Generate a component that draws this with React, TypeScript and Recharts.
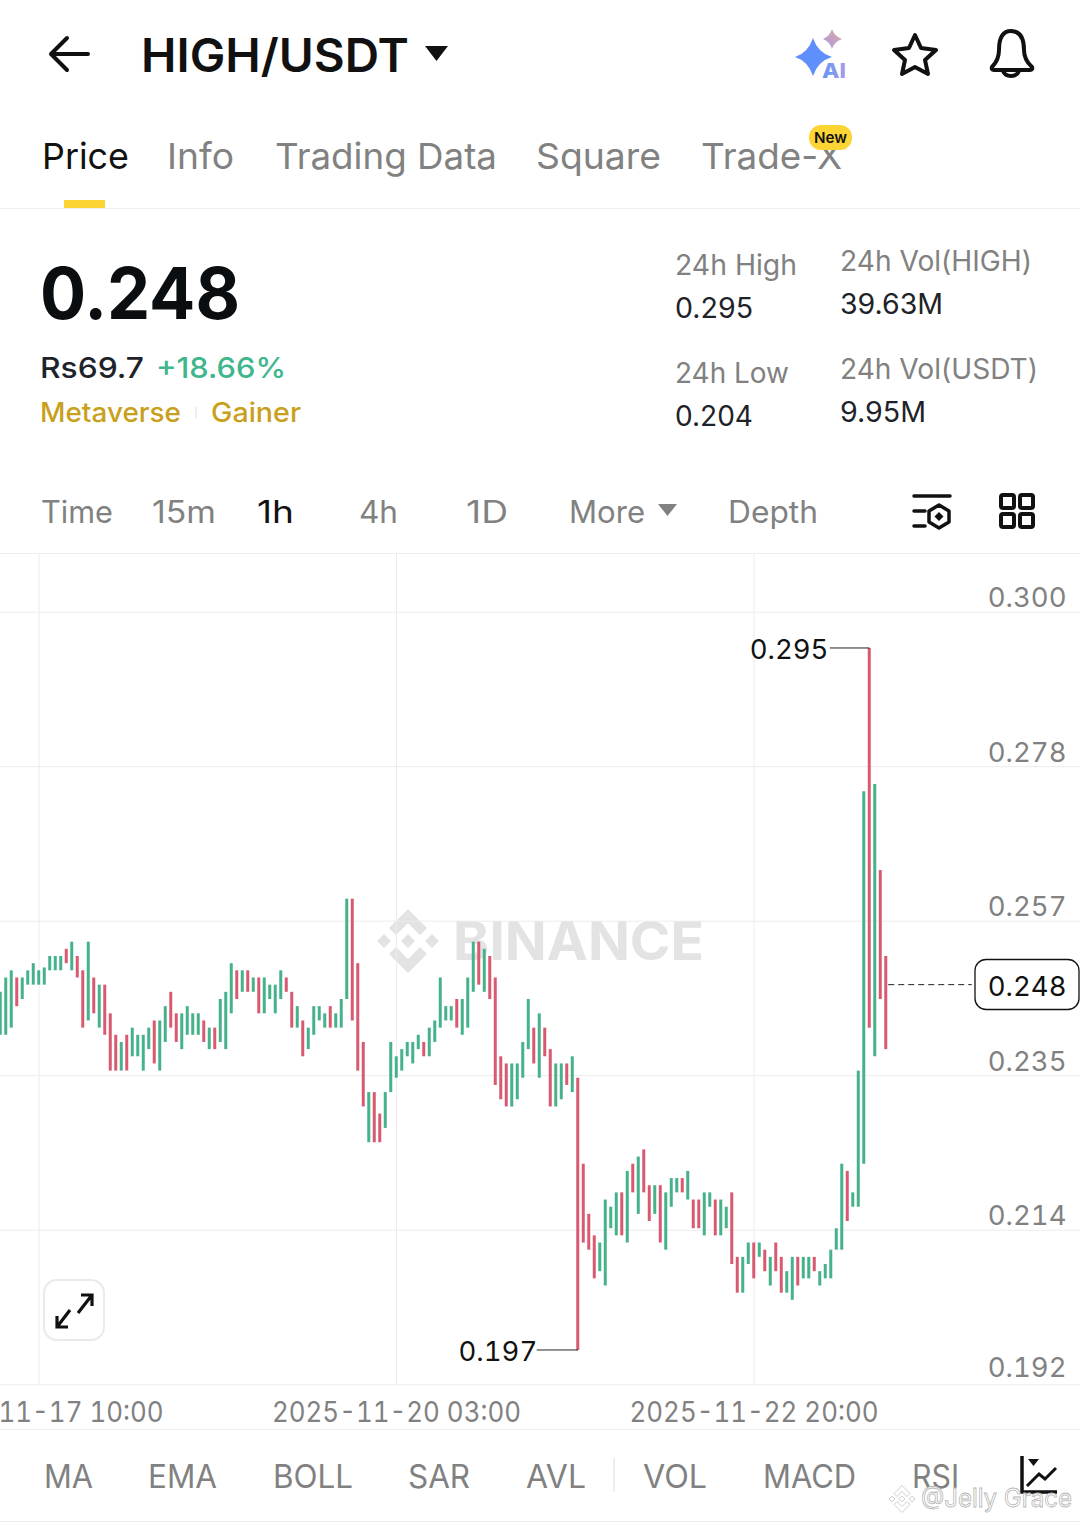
import React from "react";
import {
  ComposedChart,
  Bar,
  Cell,
  XAxis,
  YAxis,
  CartesianGrid,
  ReferenceLine,
  ReferenceDot,
} from "recharts";

// hourly bars, high / low in thousandths of a USDT
const highs = [
  247, 249, 250, 249, 249, 250, 251, 250, 250.4, 252, 252, 252, 253, 254, 252, 250, 254, 249, 248, 248,
  244, 241, 240, 241, 242, 241, 241, 242, 243, 243, 245, 247, 244, 244, 245, 244, 244, 243, 242, 242,
  246, 247, 251, 250, 250, 250, 249, 249, 249, 248, 248, 250, 249, 247, 245, 243, 242, 245, 245, 244,
  245, 244, 246, 260, 260, 251, 240, 233, 233, 230, 233, 240, 238, 239, 240, 240, 241, 240, 242, 243,
  249, 245, 245, 246, 246, 249, 254, 254, 253, 252, 249, 238, 237, 237, 237, 240, 246, 242, 244, 242,
  239, 237, 237, 237, 238, 235, 223, 216, 213, 212, 218, 217, 219, 219, 222, 223, 224, 225, 220, 220,
  220, 219, 221, 221, 221, 222, 218, 218, 219, 219, 218, 218, 217, 219, 210, 210, 212, 212, 212, 211,
  210, 212, 210, 208, 210, 210, 210, 210, 210, 208, 209, 211, 214, 223, 222, 219, 236, 275, 295, 276,
  264, 252,
];
const lows = [
  241, 241, 242, 245, 246, 248, 248, 248, 248, 250, 250, 250, 251, 250, 249, 242, 243, 244, 242, 241,
  236, 236, 236, 236, 238, 238, 236, 239, 237, 236, 240, 242, 240, 239, 241, 241, 241, 240, 239, 239,
  240, 239, 244, 246, 247, 247, 247, 244, 244, 246, 244, 246, 247, 242, 242, 238, 239, 241, 243, 242,
  242, 242, 242, 246, 243, 236, 231, 226, 226, 226, 228, 233, 235, 236, 238, 237, 239, 238, 238, 240,
  242, 243, 243, 242, 241, 242, 247, 248, 247, 246, 234, 232, 231, 231, 232, 235, 239, 237, 235, 238,
  231, 231, 232, 234, 233, 197, 212, 211, 207, 208, 206, 214, 213, 213, 212, 219, 216, 219, 215, 216,
  212, 211, 217, 219, 219, 218, 214, 214, 213, 217, 213, 213, 214, 209, 205, 205, 209, 207, 210, 208,
  206, 208, 205, 205, 204, 206, 207, 207, 208, 206, 207, 207, 211, 211, 215, 217, 217, 223, 242, 238,
  246, 239,
];
// 1 = green bar, 0 = red bar
const rising = [
  1, 1, 1, 0, 1, 1, 1, 1, 1, 1, 1, 1, 0, 1, 0, 0, 1, 0, 1, 0,
  0, 0, 1, 0, 1, 1, 1, 1, 0, 1, 1, 0, 0, 1, 1, 1, 1, 0, 1, 0,
  1, 1, 1, 0, 1, 0, 1, 0, 1, 1, 1, 1, 0, 0, 1, 0, 1, 1, 1, 1,
  0, 1, 1, 1, 0, 0, 0, 1, 0, 0, 1, 1, 1, 1, 1, 1, 1, 0, 1, 1,
  1, 1, 1, 0, 1, 1, 1, 0, 1, 0, 0, 0, 0, 1, 1, 1, 1, 0, 1, 0,
  0, 1, 1, 0, 1, 0, 0, 0, 0, 1, 1, 1, 1, 0, 1, 0, 1, 0, 0, 1,
  0, 1, 1, 1, 0, 1, 0, 0, 1, 1, 0, 1, 1, 0, 0, 1, 1, 0, 1, 0,
  1, 0, 0, 1, 1, 0, 1, 1, 0, 1, 1, 1, 1, 1, 0, 1, 1, 1, 0, 1,
  0, 0,
];

const priceTicks = [0.3, 0.27843, 0.25686, 0.23529, 0.21372, 0.19215];
const timeTicks = [7, 72, 137];
const timeLabels = ["2025-11-17 10:00", "2025-11-20 03:00", "2025-11-22 20:00"];

const lastPrice = 0.248;
const highMark = { index: 158, price: 0.295, from: 150.8 };
const lowMark = { index: 105, price: 0.197, from: 97.5 };

const chartData = highs.map((h, i) => ({
  i,
  range: [lows[i] / 1000, h / 1000],
  up: rising[i] === 1,
}));

const GREEN = "#45B28B";
const RED = "#D95A70";
const GRAY = "#818181";
const FONT = "Inter, 'Noto Sans', sans-serif";
const TNUM = { fontVariantNumeric: "tabular-nums" };

function T({ x, y, s, c = "#1e2329", w = 400, L, children }: any) {
  return (
    <text
      x={x - 1}
      y={y}
      fontSize={s}
      fill={c}
      fontWeight={w}
      fontFamily={FONT}
      textLength={L ? L + 2 : undefined}
      lengthAdjust={L ? "spacingAndGlyphs" : undefined}
    >
      {children}
    </text>
  );
}

function PriceTick({ y, payload, index }: any) {
  const last = index === priceTicks.length - 1;
  return (
    <text
      x={1066.5}
      y={y - (last ? 7.5 : 5)}
      textAnchor="end"
      fontSize={27.5}
      fill={GRAY}
      fontFamily={FONT}
      style={TNUM}
    >
      {payload.value.toFixed(3)}
    </text>
  );
}

function TimeTick({ x, y, payload }: any) {
  return (
    <text
      x={x}
      y={y + 29}
      textAnchor="middle"
      fontSize={28.5}
      fill={GRAY}
      fontFamily={FONT}
      style={TNUM}
      textLength={249}
      lengthAdjust="spacingAndGlyphs"
    >
      {timeLabels[timeTicks.indexOf(payload.value)]}
    </text>
  );
}

const MarkText = ({ cx, cy, text, dx = 0 }: any) => (
  <text x={cx + dx} y={cy + 11} textAnchor="end" fontSize={27.5} fill="#111" fontFamily={FONT} style={TNUM}>
    {text}
  </text>
);

function Logo({ x, y, k, c, line }: any) {
  return (
    <g transform={`translate(${x} ${y}) scale(${k})`} fill={c} stroke={line} strokeWidth={line ? 2 : 0}>
      <path d="M0 -32 L19 -13 L12 -6 L0 -18 L-12 -6 L-19 -13 Z" />
      <path d="M0 32 L19 13 L12 6 L0 18 L-12 6 L-19 13 Z" />
      <path d="M-24 -7 L-17 0 L-24 7 L-31 0 Z" />
      <path d="M24 -7 L31 0 L24 7 L17 0 Z" />
      <path d="M0 -7 L7 0 L0 7 L-7 0 Z" />
    </g>
  );
}

const Watermark = () => (
  <svg width={1080} height={1524} style={{ position: "absolute", left: 0, top: 0 }}>
    <Logo x={408} y={941} k={1} c="#e3e3e3" />
    <text
      x={453}
      y={960}
      fontSize={54}
      fontWeight={700}
      fill="#e3e3e3"
      fontFamily={FONT}
      textLength={251}
      lengthAdjust="spacingAndGlyphs"
    >
      BINANCE
    </text>
  </svg>
);

const Chrome = () => (
  <svg width={1080} height={1524} style={{ position: "absolute", left: 0, top: 0, pointerEvents: "none" }}>
    <defs>
      <linearGradient id="aiText" x1="0" x2="1" y1="0" y2="0">
        <stop offset="0" stopColor="#5f97f5" />
        <stop offset="1" stopColor="#a99be6" />
      </linearGradient>
      <linearGradient id="aiSmall" x1="0" x2="1" y1="1" y2="0">
        <stop offset="0" stopColor="#a49be8" />
        <stop offset="1" stopColor="#e5a89c" />
      </linearGradient>
    </defs>

    {/* header */}
    <path d="M88 54 H52 M67 38 L51 54 L67 70" fill="none" stroke="#111" strokeWidth={4} strokeLinecap="round" strokeLinejoin="round" />
    <T x={142} y={72} s={46} w={600} c="#111" L={266}>HIGH/USDT</T>
    <path d="M425 46 H448 L436.5 61 Z" fill="#111" />

    <path d="M813 38 Q818 53 832 57 Q818 61 813 76 Q808 61 795 57 Q808 53 813 38 Z" fill="#5f8ffb" />
    <path d="M832 29 Q834 36 842 39 Q834 42 832 49 Q830 42 823 39 Q830 36 832 29 Z" fill="url(#aiSmall)" />
    <text x={822} y={78} fontSize={20} fontWeight={800} fill="url(#aiText)" fontFamily={FONT} textLength={24} lengthAdjust="spacingAndGlyphs">AI</text>
    <path
      d="M915 35 L921 48 L936 50 L925 60 L928 74 L915 67 L902 74 L905 60 L894 50 L909 48 Z"
      fill="none"
      stroke="#111"
      strokeWidth={4}
      strokeLinejoin="round"
    />
    <path
      d="M992 67 Q999 60 999 50 Q999 31 1011 31 Q1024 31 1024 50 Q1024 60 1032 67 Q1033 70 1030 70 H994 Q991 70 992 67 Z M1003 71 Q1005 76 1011 76 Q1017 76 1019 71"
      fill="none"
      stroke="#111"
      strokeWidth={4}
      strokeLinejoin="round"
    />

    {/* tabs */}
    <T x={43} y={169} s={36} w={400} c="#111" L={85}>Price</T>
    <T x={168} y={169} s={36} c={GRAY} L={65}>Info</T>
    <T x={276} y={169} s={36} c={GRAY} L={220}>Trading Data</T>
    <T x={537} y={169} s={36} c={GRAY} L={123}>Square</T>
    <T x={702} y={169} s={36} c={GRAY} L={139}>Trade-X</T>
    <rect x={809} y={125} width={43} height={25} rx={12} fill="#fcd535" />
    <T x={815} y={143} s={15} w={600} c="#111" L={31}>New</T>
    <rect x={64} y={200} width={41} height={8} fill="#fcd535" />
    <line x1={0} x2={1080} y1={208.5} y2={208.5} stroke="#eeeeee" />

    {/* price block */}
    <T x={41} y={319} s={71} w={700} c="#0b0e11" L={198}>0.248</T>
    <T x={41} y={378} s={29} w={500} c="#1e2329" L={102}>Rs69.7</T>
    <T x={157} y={378} s={29} w={500} c="#3fb68b" L={128}>+18.66%</T>
    <T x={41} y={422} s={27} w={500} c="#c99f1e" L={139}>Metaverse</T>
    <line x1={196} x2={196} y1={407} y2={418} stroke="#eeeeee" strokeWidth={2} />
    <T x={212} y={422} s={27} w={500} c="#c99f1e" L={88}>Gainer</T>

    <T x={676} y={275} s={28} c={GRAY} L={120}>24h High</T>
    <T x={676} y={318} s={28} c="#1e2329" L={76}>0.295</T>
    <T x={841} y={271} s={28} c={GRAY} L={190}>24h Vol(HIGH)</T>
    <T x={841} y={314} s={28} c="#1e2329" L={101}>39.63M</T>
    <T x={676} y={383} s={28} c={GRAY} L={112}>24h Low</T>
    <T x={676} y={426} s={28} c="#1e2329" L={76}>0.204</T>
    <T x={841} y={379} s={28} c={GRAY} L={196}>24h Vol(USDT)</T>
    <T x={841} y={422} s={28} c="#1e2329" L={84}>9.95M</T>

    {/* interval row */}
    <T x={42} y={523} s={31} c={GRAY} L={70}>Time</T>
    <T x={153} y={523} s={31} c={GRAY} L={62}>15m</T>
    <T x={258} y={523} s={31} c="#111" L={35}>1h</T>
    <T x={360} y={523} s={31} c={GRAY} L={37}>4h</T>
    <T x={467} y={523} s={31} c={GRAY} L={40}>1D</T>
    <T x={570} y={523} s={31} c={GRAY} L={74}>More</T>
    <path d="M658 504 H677 L667.5 516 Z" fill={GRAY} />
    <T x={729} y={523} s={31} c={GRAY} L={88}>Depth</T>

    <path d="M914 496 H950 M914 511 H925 M914 526 H925" stroke="#111" strokeWidth={3.5} strokeLinecap="round" />
    <path d="M939 505 L949 511 V522 L939 528 L929 522 V511 Z" fill="none" stroke="#111" strokeWidth={3.5} strokeLinejoin="round" />
    <path d="M939 512 L943.5 516.5 L939 521 L934.5 516.5 Z" fill="#111" />
    <g fill="none" stroke="#111" strokeWidth={4}>
      <rect x={1001} y={495} width={13} height={13} rx={2} />
      <rect x={1020} y={495} width={13} height={13} rx={2} />
      <rect x={1001} y={514} width={13} height={13} rx={2} />
      <rect x={1020} y={514} width={13} height={13} rx={2} />
    </g>
    <line x1={0} x2={1080} y1={553.5} y2={553.5} stroke="#eeeeee" />

    {/* last price box */}
    <rect x={975} y={959.5} width={104} height={50} rx={11} fill="#fff" stroke="#111" strokeWidth={1.3} />
    <text x={1066.5} y={996} textAnchor="end" fontSize={27.5} fill="#111" fontFamily={FONT} style={TNUM}>0.248</text>

    {/* expand button */}
    <rect x={44} y={1280} width={60} height={60} rx={13} fill="#fff" stroke="#eaeaea" strokeWidth={2} />
    <path
      d="M78 1313 L92 1295 M81 1295 H92 V1306 M70 1310 L57 1327 M57 1316 V1327 H68"
      fill="none"
      stroke="#111"
      strokeWidth={3.2}
    />

    {/* indicator row */}
    <line x1={0} x2={1080} y1={1429.5} y2={1429.5} stroke="#eeeeee" />
    <T x={45} y={1488} s={32} c={GRAY} L={47}>MA</T>
    <T x={149} y={1488} s={32} c={GRAY} L={67}>EMA</T>
    <T x={274} y={1488} s={32} c={GRAY} L={78}>BOLL</T>
    <T x={409} y={1488} s={32} c={GRAY} L={60}>SAR</T>
    <T x={527} y={1488} s={32} c={GRAY} L={58}>AVL</T>
    <line x1={614} x2={614} y1={1458} y2={1492} stroke="#eeeeee" strokeWidth={2} />
    <T x={644} y={1488} s={32} c={GRAY} L={62}>VOL</T>
    <T x={764} y={1488} s={32} c={GRAY} L={91}>MACD</T>
    <T x={913} y={1488} s={32} c={GRAY} L={45}>RSI</T>
    <path d="M1022 1456 V1492 H1057" fill="none" stroke="#111" strokeWidth={3.5} />
    <path d="M1027 1486 L1039 1474 L1045 1479 L1056 1468" fill="none" stroke="#111" strokeWidth={3} />
    <path d="M1028 1459 H1039 L1033.5 1466 Z" fill="#111" />
    <line x1={0} x2={1080} y1={1521.5} y2={1521.5} stroke="#eeeeee" />

    {/* reposter mark */}
    <Logo x={902} y={1499} k={0.42} c="#fff" line="#c4c4c4" />
    <text
      x={921}
      y={1507}
      fontSize={25}
      fill="#fff"
      stroke="#b5b5b5"
      strokeWidth={0.8}
      fontFamily={FONT}
      textLength={151}
      lengthAdjust="spacingAndGlyphs"
    >
      @Jelly Grace
    </text>
  </svg>
);

export default function App() {
  return (
    <div
      style={{
        position: "absolute",
        left: 0,
        top: 0,
        width: 1080,
        height: 1524,
        background: "#fff",
        overflow: "hidden",
      }}
    >
      <Watermark />
      <div style={{ position: "absolute", left: 0, top: 553 }}>
        <ComposedChart
          width={1081}
          height={876}
          data={chartData}
          margin={{ top: 0, right: 0, bottom: 0, left: 0 }}
        >
          <CartesianGrid
            stroke="#ececec"
            verticalValues={timeTicks}
            horizontalValues={priceTicks}
          />
          <XAxis
            dataKey="i"
            type="number"
            scale="linear"
            domain={[-0.0909, 196.27]}
            allowDataOverflow
            ticks={timeTicks}
            interval={0}
            height={44}
            axisLine={false}
            tickLine={false}
            tick={<TimeTick />}
          />
          <YAxis
            orientation="right"
            width={1}
            domain={[0.19211, 0.30826]}
            allowDataOverflow
            ticks={priceTicks}
            interval={0}
            axisLine={false}
            tickLine={false}
            tick={<PriceTick />}
          />
          <Bar dataKey="range" barSize={3} isAnimationActive={false}>
            {chartData.map((d) => (
              <Cell key={d.i} fill={d.up ? GREEN : RED} />
            ))}
          </Bar>
          <ReferenceLine
            segment={[
              { x: 161.4, y: lastPrice },
              { x: 176.6, y: lastPrice },
            ]}
            stroke="#222"
            strokeDasharray="6 4"
          />
          <ReferenceLine
            segment={[
              { x: highMark.from, y: highMark.price },
              { x: highMark.index, y: highMark.price },
            ]}
            stroke="#222"
          />
          <ReferenceLine
            segment={[
              { x: lowMark.from, y: lowMark.price },
              { x: lowMark.index, y: lowMark.price },
            ]}
            stroke="#222"
          />
          <ReferenceDot
            x={highMark.from}
            y={highMark.price}
            shape={(p: any) => <MarkText {...p} text="0.295" dx={-1.5} />}
          />
          <ReferenceDot
            x={lowMark.from}
            y={lowMark.price}
            shape={(p: any) => <MarkText {...p} text="0.197" dx={0.5} />}
          />
        </ComposedChart>
      </div>
      <Chrome />
    </div>
  );
}
